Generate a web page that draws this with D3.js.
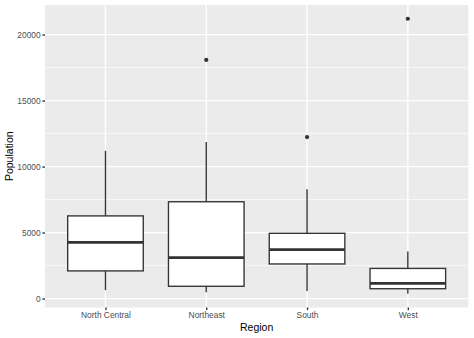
<!DOCTYPE html>
<html><head><meta charset="utf-8">
<script src="https://cdn.jsdelivr.net/npm/d3@7"></script>
<style>body{margin:0;background:#fff}svg{display:block}text{font-family:"Liberation Sans",Arial,sans-serif}</style>
</head><body>
<svg id="c" width="474" height="338"></svg>
<script>
const regions = ["North Central","Northeast","South","West"];
const lowerWhisker = [637, 472, 579, 365];
const q1 = [2096, 931, 2621.5, 746];
const median = [4255, 3100, 3710.5, 1144];
const q3 = [6262.5, 7333, 4943.5, 2284];
const upperWhisker = [11197, 11860, 8277, 3559];
const outliers = [[], [18076], [12237], [21198]];
const yTicks = [0, 5000, 10000, 15000, 20000];
const yMinor = [2500, 7500, 12500, 17500];

const svg = d3.select("#c");
const L = 45, R = 468.3, T = 5, B = 307.5;
const allVals = [].concat(lowerWhisker, upperWhisker, ...outliers);
const lo = d3.min(allVals), hi = d3.max(allVals), pad = (hi - lo) * 0.05;
const y = d3.scaleLinear().domain([lo - pad, hi + pad]).range([B, T]);
const x = d3.scalePoint().domain(regions).range([L, R]).padding(0.6);
const step = x.step();
const bw = step * 0.75;

svg.append("rect").attr("x", L).attr("y", T).attr("width", R - L).attr("height", B - T).attr("fill", "#EBEBEB");
const g = svg.append("g");
g.selectAll(".minor").data(yMinor).join("line")
  .attr("x1", L).attr("x2", R).attr("y1", d => y(d)).attr("y2", d => y(d))
  .attr("stroke", "#fff").attr("stroke-width", 0.68);
g.selectAll(".major").data(yTicks).join("line")
  .attr("x1", L).attr("x2", R).attr("y1", d => y(d)).attr("y2", d => y(d))
  .attr("stroke", "#fff").attr("stroke-width", 1.36);
g.selectAll(".vmaj").data(regions).join("line")
  .attr("x1", d => x(d)).attr("x2", d => x(d)).attr("y1", T).attr("y2", B)
  .attr("stroke", "#fff").attr("stroke-width", 1.36);

const col = "#333333";
regions.forEach((r, i) => {
  const cx = x(r);
  g.append("line").attr("x1", cx).attr("x2", cx).attr("y1", y(q3[i])).attr("y2", y(upperWhisker[i])).attr("stroke", col).attr("stroke-width", 1.36);
  g.append("line").attr("x1", cx).attr("x2", cx).attr("y1", y(q1[i])).attr("y2", y(lowerWhisker[i])).attr("stroke", col).attr("stroke-width", 1.36);
  g.append("rect").attr("x", cx - bw / 2).attr("width", bw).attr("y", y(q3[i])).attr("height", y(q1[i]) - y(q3[i]))
    .attr("fill", "#fff").attr("stroke", col).attr("stroke-width", 1.36);
  g.append("line").attr("x1", cx - bw / 2).attr("x2", cx + bw / 2).attr("y1", y(median[i])).attr("y2", y(median[i])).attr("stroke", col).attr("stroke-width", 2.7);
  outliers[i].forEach(v => {
    g.append("circle").attr("cx", cx).attr("cy", y(v)).attr("r", 2.1).attr("fill", col);
  });
});

const yAxis = svg.append("g").attr("transform", `translate(${L},0)`)
  .call(d3.axisLeft(y).tickValues(yTicks).tickSize(2.6).tickPadding(1.8).tickFormat(d3.format("d")));
const xAxis = svg.append("g").attr("transform", `translate(0,${B})`)
  .call(d3.axisBottom(x).tickSize(2.6).tickPadding(1.8));
[yAxis, xAxis].forEach(a => {
  a.select(".domain").remove();
  a.selectAll(".tick line").attr("stroke", col).attr("stroke-width", 1.36);
  a.selectAll(".tick text").attr("fill", "#4D4D4D").style("font-size", "8.4px").style("font-family", '"Liberation Sans",Arial,sans-serif');
});

svg.append("text").attr("x", (L + R) / 2).attr("y", 330.5).attr("text-anchor", "middle")
  .style("font-size", "10.5px").attr("fill", "#000").text("Region");
svg.append("text").attr("transform", `translate(13,${(T + B) / 2}) rotate(-90)`).attr("text-anchor", "middle")
  .style("font-size", "10.5px").attr("fill", "#000").text("Population");
</script>
</body></html>
